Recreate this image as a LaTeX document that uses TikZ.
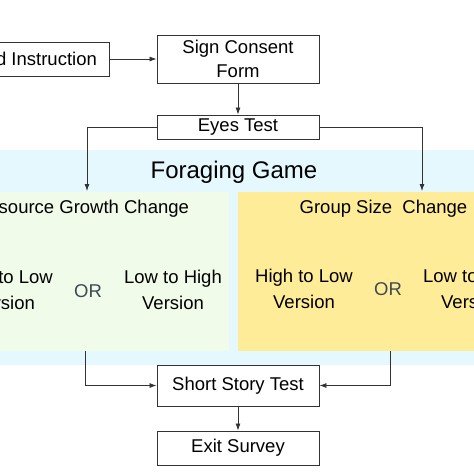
\documentclass[tikz,border=0pt]{standalone}
\usepackage{fontspec}
\setmainfont{Liberation Sans}
\usetikzlibrary{arrows.meta}
\definecolor{bgcyan}{HTML}{E4F8FD}
\definecolor{bggreen}{HTML}{F0FBE9}
\definecolor{bgyellow}{HTML}{FFEC98}
\definecolor{orcol}{HTML}{3C4A54}
\definecolor{linecol}{HTML}{333333}
\tikzset{
  stepbox/.style={draw=linecol, line width=0.9pt, fill=white, inner sep=0pt,
    align=center, font=\fontsize{18.5}{24}\selectfont},
  region/.style={inner sep=0pt, draw=none, anchor=north west},
  lbl/.style={align=center, font=\fontsize{18.5}{26}\selectfont},
  conn/.style={draw=linecol, line width=0.8pt},
  arr/.style={conn, -{Latex[length=7pt,width=5pt]}},
}
\begin{document}
\begin{tikzpicture}[x=1pt,y=-1pt]
\useasboundingbox (0,0) rectangle (474,474);
\clip (0,0) rectangle (474,474);
\fill[white] (0,0) rectangle (474,474);
% regions
\node[region, fill=bgcyan, minimum width=474pt, minimum height=215pt] (game) at (0,150) {};
\node[region, fill=bggreen, minimum width=229pt, minimum height=159pt] (green) at (0,192) {};
\node[region, fill=bgyellow, minimum width=240pt, minimum height=159pt] (yellow) at (238,192) {};
% titles and labels
\node[font=\fontsize{24}{28}\selectfont] (title) at (234,172) {Foraging Game};
\node[lbl, anchor=east] (rgc) at (192.5,209) {Resource Growth Change};
\node[lbl] (gsc) at (383.5,209) {Group Size\ \ Change};
\node[lbl] (ghl) at (4,290) {High to Low\\Version};
\node[lbl, text=orcol] (gor) at (88,291) {OR};
\node[lbl] (glh) at (173,290) {Low to High\\Version};
\node[lbl] (yhl) at (304,289) {High to Low\\Version};
\node[lbl, text=orcol] (yor) at (388,289) {OR};
\node[lbl] (ylh) at (472,289) {Low to High\\Version};
% boxes
\node[stepbox, minimum width=159pt, minimum height=34pt] (instr) at (29.5,59) {Read Instruction};
\node[stepbox, minimum width=162pt, minimum height=48pt] (consent) at (238,59) {Sign Consent\\Form};
\node[stepbox, minimum width=162pt, minimum height=24pt] (eyes) at (238,127) {Eyes Test};
\node[stepbox, minimum width=162pt, minimum height=41pt] (short) at (238,385.5) {Short Story Test};
\node[stepbox, minimum width=162pt, minimum height=34pt] (exit) at (238,448) {Exit Survey};
% connector ends
\coordinate (gin) at (87,191);
\coordinate (yin) at (422,191);
\coordinate (gout) at (85,351);
\coordinate (yout) at (390,351);
% connectors
\draw[arr] (instr) -- (consent);
\draw[arr] (consent) -- (eyes);
\draw[arr] (eyes.west) -| (gin);
\draw[arr] (eyes.east) -| (yin);
\draw[arr] (gout) |- (short.west);
\draw[arr] (yout) |- (short.east);
\draw[arr] (short) -- (exit);
\end{tikzpicture}
\end{document}
